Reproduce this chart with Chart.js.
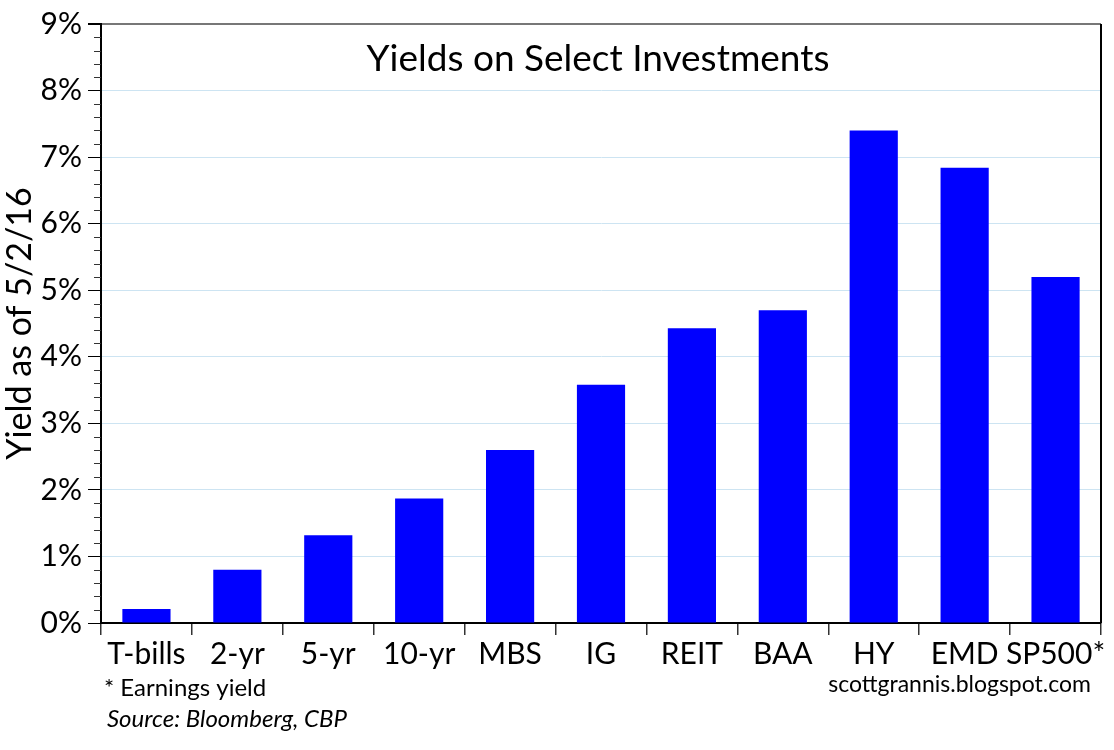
<!DOCTYPE html>
<html>
<head>
<meta charset="utf-8">
<script src="https://cdn.jsdelivr.net/npm/chart.js@4/dist/chart.umd.min.js"></script>
<style>
  html, body { margin: 0; padding: 0; background: #fff; }
  #wrap { width: 1114px; height: 750px; }
</style>
</head>
<body>
<div id="wrap"><canvas id="yieldChart"></canvas></div>
<script>
// Data
const categories = ['T-bills', '2-yr', '5-yr', '10-yr', 'MBS', 'IG', 'REIT', 'BAA', 'HY', 'EMD', 'SP500*'];
const yields = [0.21, 0.80, 1.32, 1.87, 2.60, 3.58, 4.43, 4.70, 7.40, 6.84, 5.20];
const yTicks = [0, 1, 2, 3, 4, 5, 6, 7, 8, 9];

const FONT = 'Lato, "Noto Sans", sans-serif';

// Title, footnotes, minor ticks and the right border
const extras = {
    id: 'extras',
    afterDraw(chart) {
        const ctx = chart.ctx;
        const area = chart.chartArea;
        const y = chart.scales.y;
        ctx.save();

        // minor ticks every 0.2%
        ctx.strokeStyle = '#333';
        ctx.lineWidth = 1;
        for (let v = 0; v < 9; v += 1) {
            for (let m = 1; m < 5; m++) {
                const py = Math.round(y.getPixelForValue(v + m * 0.2)) + 0.5;
                ctx.beginPath();
                ctx.moveTo(area.left - 7, py);
                ctx.lineTo(area.left, py);
                ctx.stroke();
            }
        }

        // right border
        ctx.strokeStyle = '#000';
        ctx.lineWidth = 2;
        ctx.beginPath();
        ctx.moveTo(area.right, area.top);
        ctx.lineTo(area.right, area.bottom);
        ctx.stroke();

        // title inside the plot
        ctx.fillStyle = '#000';
        ctx.textAlign = 'center';
        ctx.textBaseline = 'middle';
        ctx.font = '37px ' + FONT;
        ctx.fillText('Yields on Select Investments', (area.left + area.right) / 2 - 3, 59);

        // footnotes
        ctx.textAlign = 'left';
        ctx.font = '24px ' + FONT;
        ctx.fillText('* Earnings yield', 104, 688);
        ctx.font = 'italic 24px ' + FONT;
        ctx.fillText('Source: Bloomberg, CBP', 107, 719);
        ctx.textAlign = 'right';
        ctx.font = '23px ' + FONT;
        ctx.fillText('scottgrannis.blogspot.com', 1091, 685);
        ctx.restore();
    }
};

const ctx = document.getElementById('yieldChart').getContext('2d');
const yieldChart = new Chart(ctx, {
    type: 'bar',
    data: {
        labels: categories,
        datasets: [{
            data: yields,
            backgroundColor: '#0000ff',
            borderWidth: 0,
            barPercentage: 0.53,
            categoryPercentage: 1.0
        }]
    },
    options: {
        responsive: true,
        maintainAspectRatio: false,
        animation: false,
        layout: { padding: { left: 0, right: 13, top: 23, bottom: 0 } },
        plugins: {
            legend: { display: false },
            tooltip: { enabled: false }
        },
        scales: {
            x: {
                offset: true,
                grid: {
                    offset: true,
                    drawOnChartArea: false,
                    tickLength: 12,
                    tickColor: '#333',
                    lineWidth: 1.5
                },
                border: { color: '#000', width: 2 },
                ticks: {
                    color: '#000',
                    font: { family: FONT, size: 30 },
                    padding: 1,
                    maxRotation: 0,
                    autoSkip: false
                },
                afterFit(scale) { scale.height = 127; }
            },
            y: {
                min: 0,
                max: 9,
                afterBuildTicks(scale) {
                    scale.ticks = yTicks.map(v => ({ value: v }));
                },
                grid: {
                    color: (c) => c.tick && c.tick.value === 9 ? '#777' : '#cde4f2',
                    lineWidth: (c) => c.tick && c.tick.value === 9 ? 2 : 1,
                    tickLength: 13,
                    tickColor: '#000',
                    drawTicks: true
                },
                border: { color: '#000', width: 2 },
                ticks: {
                    color: '#000',
                    font: { family: FONT, size: 30 },
                    padding: 6,
                    callback: (v) => v + '%'
                },
                title: {
                    display: true,
                    text: 'Yield as of 5/2/16',
                    color: '#000',
                    font: { family: FONT, size: 34 },
                    padding: { top: 0, bottom: 0 }
                },
                afterFit(scale) { scale.width = 101; }
            }
        }
    },
    plugins: [extras]
});
</script>
</body>
</html>
